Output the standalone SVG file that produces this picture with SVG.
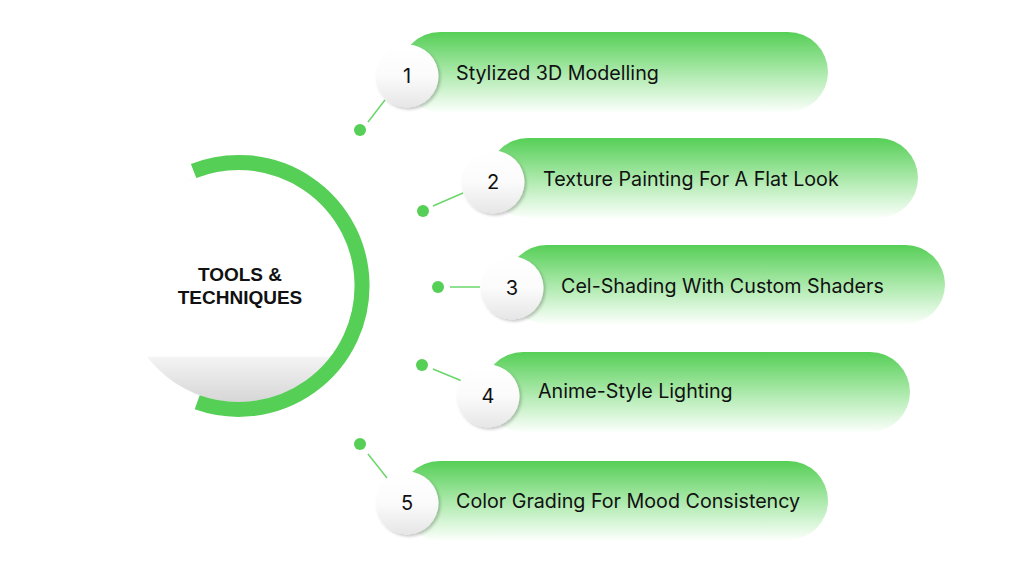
<svg xmlns="http://www.w3.org/2000/svg" width="1024" height="576" viewBox="0 0 1024 576">
<defs>
<linearGradient id="pill" x1="0" y1="0" x2="0" y2="1">
<stop offset="0" stop-color="#56cf56"/>
<stop offset="0.55" stop-color="#b2ebb2"/>
<stop offset="1" stop-color="#fbfffb"/>
</linearGradient>
<linearGradient id="num" x1="0" y1="0" x2="0" y2="1">
<stop offset="0" stop-color="#ffffff"/>
<stop offset="0.5" stop-color="#fbfbfb"/>
<stop offset="1" stop-color="#e6e6e6"/>
</linearGradient>
<linearGradient id="big" x1="0" y1="0" x2="0" y2="1">
<stop offset="0" stop-color="#ffffff"/>
<stop offset="0.8" stop-color="#ffffff"/>
<stop offset="0.81" stop-color="#f3f3f3"/>
<stop offset="1" stop-color="#d6d6d6"/>
</linearGradient>
<filter id="sh" x="-30%" y="-30%" width="160%" height="160%">
<feDropShadow dx="2" dy="2" stdDeviation="1.5" flood-color="#000" flood-opacity="0.22"/>
</filter>
<filter id="bsh" x="-20%" y="-20%" width="140%" height="140%">
<feDropShadow dx="4" dy="0" stdDeviation="1.5" flood-color="#000" flood-opacity="0.25"/>
</filter>
</defs>
<style>
.pill{fill:url(#pill);}
.num{fill:url(#num);filter:url(#sh);}
.nt{font-family:Inter,"Liberation Sans",sans-serif;font-size:20px;fill:#111;text-anchor:middle;}
.lt{font-family:Inter,"Liberation Sans",sans-serif;font-size:19.7px;fill:#111;}
.dot{fill:#56cf56;}
.ln{stroke:#6ad66a;stroke-width:1.5;fill:none;}
.tt{font-family:"Liberation Sans",Arial,sans-serif;font-weight:bold;font-size:19px;fill:#111;text-anchor:middle;}
</style>
<g id="center">
<circle cx="239" cy="286" r="116" fill="url(#big)" filter="url(#bsh)"/>
<path d="M 193.6 170.9 A 123.5 123.5 0 1 1 197.2 402.3" fill="none" stroke="#56cf56" stroke-width="15"/>
<text class="tt" x="240" y="281">TOOLS &amp;</text>
<text class="tt" x="240" y="304">TECHNIQUES</text>
</g>
<g id="connectors">
<circle class="dot" cx="360" cy="130" r="6"/>
<line class="ln" x1="368" y1="122" x2="385" y2="100"/>
<circle class="dot" cx="423" cy="211" r="6"/>
<line class="ln" x1="433" y1="206" x2="463" y2="193"/>
<circle class="dot" cx="438" cy="287" r="6"/>
<line class="ln" x1="450" y1="287" x2="480" y2="287"/>
<circle class="dot" cx="422" cy="365" r="6"/>
<line class="ln" x1="433" y1="369" x2="462" y2="381"/>
<circle class="dot" cx="360" cy="444" r="6"/>
<line class="ln" x1="368" y1="454" x2="387" y2="478"/>
</g>
<g id="item1">
<rect class="pill" x="400" y="32" width="428" height="80" rx="40"/>
<circle class="num" cx="407" cy="76" r="31.5"/>
<text class="nt" x="407" y="83">1</text>
<text class="lt" x="456" y="80">Stylized 3D Modelling</text>
</g>
<g id="item2">
<rect class="pill" x="488" y="138" width="430" height="80" rx="40"/>
<circle class="num" cx="493" cy="182" r="31.5"/>
<text class="nt" x="493" y="189">2</text>
<text class="lt" x="543" y="186">Texture Painting For A Flat Look</text>
</g>
<g id="item3">
<rect class="pill" x="507" y="245" width="438" height="79" rx="39.5"/>
<circle class="num" cx="512" cy="288" r="31.5"/>
<text class="nt" x="512" y="295">3</text>
<text class="lt" x="561" y="293">Cel-Shading With Custom Shaders</text>
</g>
<g id="item4">
<rect class="pill" x="483" y="352" width="427" height="80" rx="40"/>
<circle class="num" cx="488" cy="396" r="31.5"/>
<text class="nt" x="488" y="403">4</text>
<text class="lt" x="538" y="398">Anime-Style Lighting</text>
</g>
<g id="item5">
<rect class="pill" x="400" y="461" width="428" height="79" rx="39.5"/>
<circle class="num" cx="407" cy="503" r="31.5"/>
<text class="nt" x="407" y="510">5</text>
<text class="lt" x="456" y="508">Color Grading For Mood Consistency</text>
</g>
</svg>
